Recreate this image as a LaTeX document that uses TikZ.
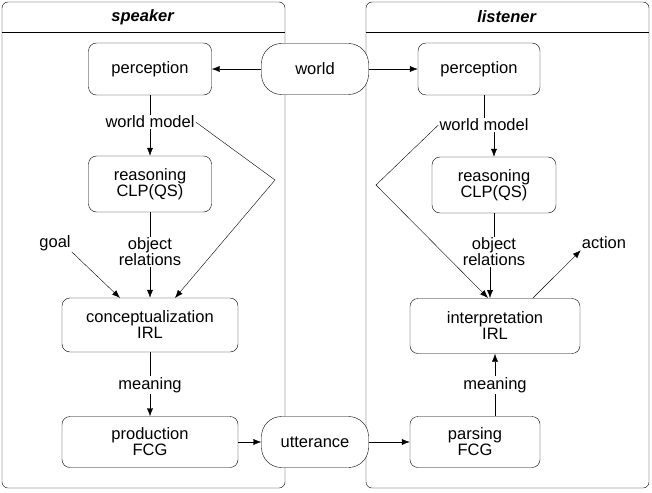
\documentclass[tikz,border=0pt]{standalone}
\usepackage{fontspec}
\setmainfont{Liberation Sans}
\usetikzlibrary{arrows.meta}
\begin{document}
\begin{tikzpicture}[x=1pt,y=-1pt,
  every node/.style={font=\fontsize{16.5}{18}\selectfont, align=center},
  box/.style={draw, rounded corners=8pt, minimum height=52pt, inner sep=2pt},
  pill/.style={draw, rounded corners=20pt, minimum width=107pt, minimum height=51pt},
  lbl/.style={inner sep=1pt},
  arr/.style={-{Latex[length=8pt,width=6pt]}},
  ln/.style={}]
\useasboundingbox (0,0) rectangle (652,492);
\draw[rounded corners=6pt] (2,2) rectangle (285,488);
\draw (2,32) -- (285,32);
\node (hs) at (143,17) {\textbf{\textit{speaker}}};
\draw[rounded corners=6pt] (366,2) rectangle (649,488);
\draw (366,32) -- (649,32);
\node (hl) at (507,17) {\textbf{\textit{listener}}};

\node[box, minimum width=123pt] (pl) at (150,69) {perception};
\node[pill, fill=white] (w) at (315,69) {world};
\node[box, minimum width=122pt] (pr) at (479,69) {perception};
\node[lbl] (wml) at (150,122) {world model};
\node[lbl] (wmr) at (484,125) {world model};
\node[box, minimum width=123pt, minimum height=56pt] (rl) at (150,184) {reasoning\\[-2pt]CLP(QS)};
\node[box, minimum width=124pt, minimum height=56pt] (rr) at (494,185) {reasoning\\[-2pt]CLP(QS)};
\node[lbl] (goal) at (55,243) {goal};
\node[lbl] (orl) at (150,252) {object\\[-2pt]relations};
\node[lbl] (orr) at (494,252) {object\\[-2pt]relations};
\node[lbl] (act) at (604,243) {action};
\node[box, minimum width=176pt, minimum height=54pt] (cl) at (150,325) {conceptualization\\[-2pt]IRL};
\node[box, minimum width=170pt, minimum height=55pt] (ir) at (495,326) {interpretation\\[-2pt]IRL};
\node[lbl] (ml) at (150,385) {meaning};
\node[lbl] (mr) at (495,385) {meaning};
\node[box, minimum width=176pt, minimum height=51pt] (prod) at (150,442) {production\\[-2pt]FCG};
\node[pill, fill=white] (u) at (315,442) {utterance};
\node[box, minimum width=130pt, minimum height=51pt] (par) at (475,442) {parsing\\[-2pt]FCG};

\coordinate (kl) at (275,180);
\coordinate (kr) at (376,185);
\draw[arr] (w) -- (pl);
\draw[arr] (w) -- (pr);
\draw (pl) -- (wml);
\draw (pr.south -| wmr) -- (wmr);
\draw[arr] (wml) -- (rl);
\draw[arr] (wmr.south -| rr) -- (rr);
\draw (rl) -- (orl);
\draw (rr) -- (orr);
\draw[arr] (orl) -- (cl);
\draw[arr] (orr.south -| 490,0) -- (490,298);
\draw[arr] (goal.south east) -- (120,298);
\draw[arr] (wml.east) -- (kl) -- (175,298);
\draw[arr] (wmr.west) -- (kr) -- (488,298);
\draw[arr] (533,298) -- (act.south west);
\draw (cl) -- (ml);
\draw[arr] (ml) -- (prod);
\draw (par.north -| mr) -- (mr);
\draw[arr] (mr) -- (ir);
\draw[arr] (prod) -- (u);
\draw[arr] (u) -- (par);
\end{tikzpicture}
\end{document}
